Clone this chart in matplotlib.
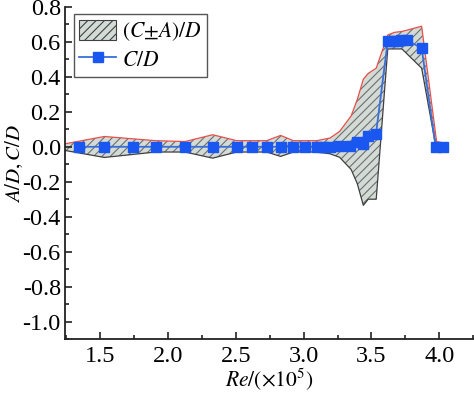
import matplotlib
matplotlib.use("Agg")
import matplotlib.pyplot as plt
from matplotlib.ticker import MultipleLocator
from matplotlib.patches import Patch
from matplotlib.lines import Line2D

plt.rcParams['font.family'] = ['Liberation Serif', 'DejaVu Serif']
plt.rcParams['mathtext.fontset'] = 'stix'
plt.rcParams['axes.unicode_minus'] = False
plt.rcParams['hatch.linewidth'] = 0.8

# C/D series
re_cd = [1.345, 1.53, 1.743, 1.908, 2.125, 2.329, 2.506, 2.617, 2.727, 2.83, 2.924,
         3.01, 3.096, 3.14, 3.194, 3.263, 3.34, 3.395, 3.435, 3.476, 3.533,
         3.62, 3.66, 3.69, 3.72, 3.76, 3.87, 3.973, 4.03]
cd = [0.0, 0.0, 0.0, 0.0, 0.0, 0.0, 0.0, 0.0, 0.0, 0.0, 0.0,
      0.0, 0.0, 0.0, 0.0, 0.002, 0.002, 0.03, 0.017, 0.059, 0.073,
      0.605, 0.607, 0.608, 0.609, 0.61, 0.565, 0.0, -0.002]

# (C±A)/D band
re_band = [1.24, 1.53, 1.908, 2.125, 2.329, 2.506, 2.727, 2.83, 2.924, 3.096, 3.194,
           3.265, 3.35, 3.395, 3.44, 3.476, 3.535, 3.62, 3.67, 3.725, 3.87, 3.98, 4.03]
upper = [0.017, 0.059, 0.035, 0.03, 0.069, 0.035, 0.035, 0.065, 0.035, 0.035, 0.05,
         0.088, 0.177, 0.27, 0.387, 0.42, 0.45, 0.64, 0.655, 0.66, 0.69, 0.03, 0.02]
lower = [-0.021, -0.061, -0.03, -0.03, -0.065, -0.03, -0.03, -0.055, -0.03, -0.03, -0.04,
         -0.06, -0.13, -0.21, -0.335, -0.30, -0.30, 0.56, 0.56, 0.56, 0.45, -0.02, -0.03]

fig = plt.figure(figsize=(4.74, 3.94), dpi=100)
ax = fig.add_axes([65/474, 55/394, 1 - 65/474, (339 - 7)/394])

fill_kw = dict(facecolor='#d3dbd7', edgecolor='#6e6e6e', hatch='////', linewidth=0)
ax.fill_between(re_band, lower, upper, **fill_kw)
ax.plot(re_band, upper, color='#e8504a', lw=0.9)
ax.plot(re_band, lower, color='#404040', lw=0.9)
ax.plot(re_cd, cd, color='#3a6fd8', lw=1.3, marker='s', markersize=7.5,
        markerfacecolor='#1a56f0', markeredgecolor='#1a56f0')

ax.set_xlim(1.24, 4.256)
ax.set_ylim(-1.1, 0.8)
ax.xaxis.set_major_locator(MultipleLocator(0.5))
ax.xaxis.set_minor_locator(MultipleLocator(0.25))
ax.yaxis.set_major_locator(MultipleLocator(0.2))
ax.yaxis.set_minor_locator(MultipleLocator(0.1))
ax.tick_params(which='both', direction='in', labelsize=17.5, width=1.2, color='#222')
ax.tick_params(which='major', length=5)
ax.tick_params(which='minor', length=3)
ax.tick_params(axis='x', pad=5)
ax.tick_params(axis='y', pad=3)
ax.spines['top'].set_visible(False)
ax.spines['right'].set_visible(False)
for s in ('left', 'bottom'):
    ax.spines[s].set_linewidth(1.3)
    ax.spines[s].set_color('#222')

ax.set_xlabel(r'$Re\mathrm{/(\times10^{5})}$', fontsize=15.5, labelpad=0)
ax.set_ylabel(r'$A/D,C/D$', fontsize=15)
ax.yaxis.set_label_coords(-0.098, 0.53)

handles = [Patch(facecolor='#d3dbd7', edgecolor='#404040', hatch='////', linewidth=0.8),
           Line2D([], [], color='#3a6fd8', lw=1.3, marker='s', markersize=7.5,
                  markerfacecolor='#1a56f0', markeredgecolor='#1a56f0')]
leg = ax.legend(handles, [r'$\mathrm{(}C\mathrm{\pm}A\mathrm{)/}D$', r'$C/D$'],
                loc='upper left', bbox_to_anchor=(0.022, 0.978), fontsize=15.5,
                frameon=True, fancybox=False, edgecolor='#555', framealpha=1,
                handlelength=1.7, handleheight=1.1, borderpad=0.25, labelspacing=0.25,
                handletextpad=0.3, borderaxespad=0)
leg.get_frame().set_linewidth(1.0)

fig.savefig('out.png', dpi=100)
